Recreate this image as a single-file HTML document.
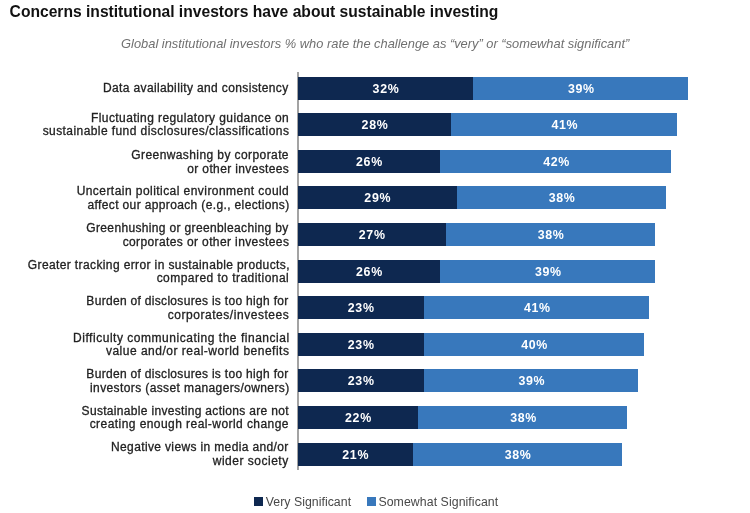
<!DOCTYPE html>
<html><head><meta charset="utf-8"><title>Chart</title>
<style>
html,body{margin:0;padding:0;background:#fff;}
body{width:750px;height:513px;position:relative;overflow:hidden;font-family:"Liberation Sans",sans-serif;}
.t{position:absolute;left:9.6px;top:1.8px;font-weight:bold;font-size:15.635px;color:#111;white-space:nowrap;line-height:20px;}
.s{position:absolute;left:121.1px;top:35.8px;font-style:italic;font-size:12.86px;color:#707070;white-space:nowrap;line-height:16px;}
.ax{position:absolute;left:297px;top:72px;width:2px;height:398px;background:#a3a3a3;}
.l{position:absolute;font-size:12.0px;line-height:14px;color:#222;white-space:nowrap;-webkit-text-stroke:0.3px #222;}
.d{position:absolute;background:#0e2850;}
.b{position:absolute;background:#3878bc;}
.v{position:absolute;color:#fff;font-weight:bold;font-size:12.4px;letter-spacing:0.65px;line-height:14px;text-align:center;width:40px;text-indent:0.65px;}
.lg{position:absolute;font-size:12.3px;color:#484848;white-space:nowrap;line-height:14px;}
.sq{position:absolute;width:9px;height:9px;}
</style></head><body>
<div id="w" style="position:absolute;left:0;top:0;width:750px;height:513px;will-change:transform">
<div class="t">Concerns institutional investors have about sustainable investing</div>
<div class="s">Global institutional investors % who rate the challenge as “very” or “somewhat significant”</div>
<div class="ax"></div>

<div class="l" id="L0" style="left:102.98px;top:80.84px;letter-spacing:0.370px">Data availability and consistency</div>
<div class="d" style="left:297.7px;top:77px;width:175.43px;height:23px"></div>
<div class="b" style="left:473.13px;top:77px;width:214.66px;height:23px"></div>
<div class="v" style="left:365.66px;top:82px">32%</div>
<div class="v" style="left:561.06px;top:82px">39%</div>
<div class="l" id="L1" style="left:90.98px;top:110.84px;letter-spacing:0.414px">Fluctuating regulatory guidance on</div>
<div class="l" id="L2" style="left:42.68px;top:123.84px;letter-spacing:0.421px">sustainable fund disclosures/classifications</div>
<div class="d" style="left:297.7px;top:113px;width:153.41px;height:23px"></div>
<div class="b" style="left:451.11px;top:113px;width:225.66px;height:23px"></div>
<div class="v" style="left:354.66px;top:118px">28%</div>
<div class="v" style="left:544.54px;top:118px">41%</div>
<div class="l" id="L3" style="left:131.32px;top:147.84px;letter-spacing:0.409px">Greenwashing by corporate</div>
<div class="l" id="L4" style="left:187.27px;top:161.84px;letter-spacing:0.365px">or other investees</div>
<div class="d" style="left:297.7px;top:150px;width:142.40px;height:23px"></div>
<div class="b" style="left:440.10px;top:150px;width:231.17px;height:23px"></div>
<div class="v" style="left:349.15px;top:155px">26%</div>
<div class="v" style="left:536.29px;top:155px">42%</div>
<div class="l" id="L5" style="left:76.64px;top:183.84px;letter-spacing:0.446px">Uncertain political environment could</div>
<div class="l" id="L6" style="left:87.58px;top:197.84px;letter-spacing:0.363px">affect our approach (e.g., elections)</div>
<div class="d" style="left:297.7px;top:186px;width:158.92px;height:23px"></div>
<div class="b" style="left:456.62px;top:186px;width:209.15px;height:23px"></div>
<div class="v" style="left:357.41px;top:191px">29%</div>
<div class="v" style="left:541.79px;top:191px">38%</div>
<div class="l" id="L7" style="left:86.32px;top:220.84px;letter-spacing:0.347px">Greenhushing or greenbleaching by</div>
<div class="l" id="L8" style="left:122.66px;top:234.84px;letter-spacing:0.386px">corporates or other investees</div>
<div class="d" style="left:297.7px;top:223px;width:147.91px;height:23px"></div>
<div class="b" style="left:445.61px;top:223px;width:209.15px;height:23px"></div>
<div class="v" style="left:351.90px;top:228px">27%</div>
<div class="v" style="left:530.78px;top:228px">38%</div>
<div class="l" id="L9" style="left:27.81px;top:257.84px;letter-spacing:0.382px">Greater tracking error in sustainable products,</div>
<div class="l" id="L10" style="left:156.66px;top:270.84px;letter-spacing:0.455px">compared to traditional</div>
<div class="d" style="left:297.7px;top:260px;width:142.40px;height:23px"></div>
<div class="b" style="left:440.10px;top:260px;width:214.66px;height:23px"></div>
<div class="v" style="left:349.15px;top:265px">26%</div>
<div class="v" style="left:528.03px;top:265px">39%</div>
<div class="l" id="L11" style="left:86.35px;top:293.84px;letter-spacing:0.310px">Burden of disclosures is too high for</div>
<div class="l" id="L12" style="left:167.66px;top:307.84px;letter-spacing:0.548px">corporates/investees</div>
<div class="d" style="left:297.7px;top:296px;width:125.89px;height:23px"></div>
<div class="b" style="left:423.59px;top:296px;width:225.66px;height:23px"></div>
<div class="v" style="left:340.90px;top:301px">23%</div>
<div class="v" style="left:517.02px;top:301px">41%</div>
<div class="l" id="L13" style="left:73.07px;top:330.84px;letter-spacing:0.529px">Difficulty communicating the financial</div>
<div class="l" id="L14" style="left:105.88px;top:343.84px;letter-spacing:0.505px">value and/or real-world benefits</div>
<div class="d" style="left:297.7px;top:333px;width:125.89px;height:23px"></div>
<div class="b" style="left:423.59px;top:333px;width:220.16px;height:23px"></div>
<div class="v" style="left:340.90px;top:338px">23%</div>
<div class="v" style="left:514.27px;top:338px">40%</div>
<div class="l" id="L15" style="left:86.35px;top:366.84px;letter-spacing:0.310px">Burden of disclosures is too high for</div>
<div class="l" id="L16" style="left:90.06px;top:380.84px;letter-spacing:0.388px">investors (asset managers/owners)</div>
<div class="d" style="left:297.7px;top:369px;width:125.89px;height:23px"></div>
<div class="b" style="left:423.59px;top:369px;width:214.66px;height:23px"></div>
<div class="v" style="left:340.90px;top:374px">23%</div>
<div class="v" style="left:511.52px;top:374px">39%</div>
<div class="l" id="L17" style="left:81.57px;top:403.84px;letter-spacing:0.319px">Sustainable investing actions are not</div>
<div class="l" id="L18" style="left:89.66px;top:416.84px;letter-spacing:0.439px">creating enough real-world change</div>
<div class="d" style="left:297.7px;top:406px;width:120.39px;height:23px"></div>
<div class="b" style="left:418.09px;top:406px;width:209.15px;height:23px"></div>
<div class="v" style="left:338.14px;top:411px">22%</div>
<div class="v" style="left:503.26px;top:411px">38%</div>
<div class="l" id="L19" style="left:111.07px;top:439.84px;letter-spacing:0.360px">Negative views in media and/or</div>
<div class="l" id="L20" style="left:212.73px;top:453.84px;letter-spacing:0.512px">wider society</div>
<div class="d" style="left:297.7px;top:443px;width:114.88px;height:23px"></div>
<div class="b" style="left:412.58px;top:443px;width:209.15px;height:23px"></div>
<div class="v" style="left:335.39px;top:448px">21%</div>
<div class="v" style="left:497.76px;top:448px">38%</div>
<div class="sq" style="left:254.2px;top:497.4px;background:#0e2850"></div>
<div class="lg" style="left:265.7px;top:495.2px;letter-spacing:0.04px">Very Significant</div>
<div class="sq" style="left:367.4px;top:497.3px;background:#3878bc"></div>
<div class="lg" style="left:378.4px;top:495.2px;letter-spacing:0.08px">Somewhat Significant</div>
</div></body></html>
